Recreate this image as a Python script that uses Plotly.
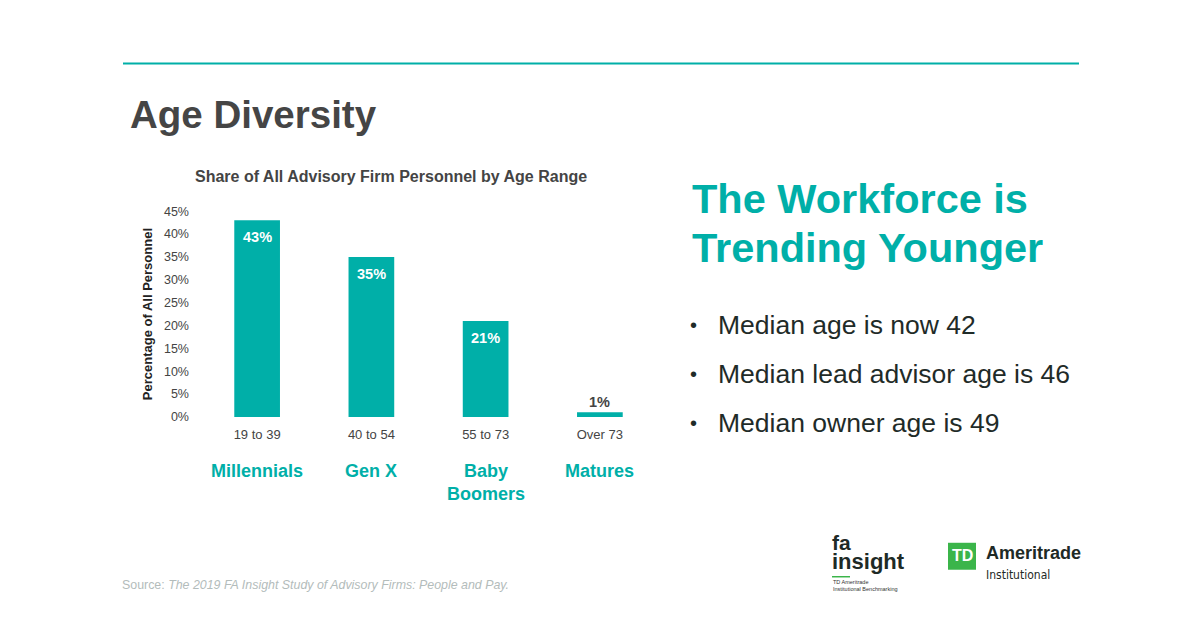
import plotly.graph_objects as go

# ---- data ----
age_ranges = ["19 to 39", "40 to 54", "55 to 73", "Over 73"]
generations = ["Millennials", "Gen X", "Baby<br>Boomers", "Matures"]
share_pct = [43, 35, 21, 1]
y_ticks = [0, 5, 10, 15, 20, 25, 30, 35, 40, 45]
y_tick_labels = [f"{v}%" for v in y_ticks]
bullets = ["Median age is now 42", "Median lead advisor age is 46", "Median owner age is 49"]

TEAL = "#00AFA8"
DARK = "#444444"
FONT = "Liberation Sans, Arial, sans-serif"
W, H = 1200, 627

def px(x):
    return x / W

def py(y):
    # vertical calibration of the screenshot
    return 1 - ((y - 6.5) / 0.979) / H

fig = go.Figure()
fig.add_trace(go.Bar(
    x=age_ranges, y=share_pct, marker=dict(color=TEAL, line=dict(width=0)),
    width=0.4, hoverinfo="skip", showlegend=False,
))

annotations = []
# value labels
for cat, v in zip(age_ranges, share_pct):
    inside = v > 5
    annotations.append(dict(
        x=cat, y=v, xref="x", yref="y", text=f"<b>{v}%</b>", showarrow=False,
        yshift=-17 if inside else 10,
        font=dict(family=FONT, size=14.5, color="white" if inside else DARK),
    ))
# generation labels
for cat, g in zip(age_ranges, generations):
    annotations.append(dict(
        x=cat, y=py(459), xref="x", yref="paper", text=f"<b>{g}</b>", showarrow=False,
        yanchor="top", xanchor="center", align="center",
        font=dict(family=FONT, size=18, color=TEAL),
    ))
# chart title
annotations.append(dict(
    x=px(391), y=py(176), xref="paper", yref="paper", showarrow=False,
    text="<b>Share of All Advisory Firm Personnel by Age Range</b>",
    font=dict(family=FONT, size=16, color=DARK), xanchor="center", yanchor="middle",
))
# page title
annotations.append(dict(
    x=px(128), y=py(114), xref="paper", yref="paper", showarrow=False,
    text="<b>Age Diversity</b>", xanchor="left", yanchor="middle",
    font=dict(family=FONT, size=38.5, color="#454545"),
))
# headline
annotations.append(dict(
    x=px(690), y=py(198), xref="paper", yref="paper", showarrow=False,
    text="<b>The Workforce is</b>", xanchor="left", yanchor="middle",
    font=dict(family=FONT, size=41.5, color=TEAL),
))
annotations.append(dict(
    x=px(690), y=py(247), xref="paper", yref="paper", showarrow=False,
    text="<b>Trending Younger</b>", xanchor="left", yanchor="middle",
    font=dict(family=FONT, size=41.5, color=TEAL),
))
# bullets
for i, b in enumerate(bullets):
    yy = 325 + 49 * i
    annotations.append(dict(
        x=px(688), y=py(yy), xref="paper", yref="paper", showarrow=False,
        text="•", xanchor="left", yanchor="middle",
        font=dict(family=FONT, size=20, color="#1f2b28"),
    ))
    annotations.append(dict(
        x=px(716), y=py(yy), xref="paper", yref="paper", showarrow=False,
        text=b, xanchor="left", yanchor="middle",
        font=dict(family=FONT, size=26.5, color="#1f2b28"),
    ))
# source
annotations.append(dict(
    x=px(120), y=py(585), xref="paper", yref="paper", showarrow=False,
    text="Source: <i>The 2019 FA Insight Study of Advisory Firms: People and Pay.</i>",
    xanchor="left", yanchor="middle",
    font=dict(family=FONT, size=12.4, color="#b3bcbb"),
))
# fa insight logo
annotations.append(dict(
    x=px(830), y=py(543), xref="paper", yref="paper", showarrow=False,
    text="<b>fa</b>", xanchor="left", yanchor="middle",
    font=dict(family=FONT, size=21, color="#1e2a26"),
))
annotations.append(dict(
    x=px(830), y=py(562), xref="paper", yref="paper", showarrow=False,
    text="<b>insight</b>", xanchor="left", yanchor="middle",
    font=dict(family=FONT, size=22, color="#1e2a26"),
))
annotations.append(dict(
    x=px(831), y=py(586), xref="paper", yref="paper", showarrow=False,
    text="TD Ameritrade<br>Institutional Benchmarking", xanchor="left", yanchor="middle",
    align="left", font=dict(family=FONT, size=5.5, color="#333333"),
))
# TD logo
annotations.append(dict(
    x=px(962), y=py(556), xref="paper", yref="paper", showarrow=False,
    text="<b>TD</b>", xanchor="center", yanchor="middle",
    font=dict(family=FONT, size=16, color="white"),
))
annotations.append(dict(
    x=px(984), y=py(553), xref="paper", yref="paper", showarrow=False,
    text="<b>Ameritrade</b>", xanchor="left", yanchor="middle",
    font=dict(family=FONT, size=18, color="#1e2a26"),
))
annotations.append(dict(
    x=px(984), y=py(575), xref="paper", yref="paper", showarrow=False,
    text="Institutional", xanchor="left", yanchor="middle",
    font=dict(family="DejaVu Sans Condensed, " + FONT, size=12, color="#1e2a26"),
))

shapes = [
    dict(type="line", xref="paper", yref="paper", x0=px(123), x1=px(1079), y0=py(63), y1=py(63),
         line=dict(color=TEAL, width=2)),
    dict(type="rect", xref="paper", yref="paper", x0=px(948), x1=px(976), y0=py(570), y1=py(543),
         fillcolor="#3bb54a", line=dict(width=0)),
    dict(type="line", xref="paper", yref="paper", x0=px(832), x1=px(850), y0=py(577), y1=py(577),
         line=dict(color="#3bb54a", width=1.5)),
]

fig.update_layout(
    width=W, height=H,
    margin=dict(l=0, r=0, t=0, b=0),
    paper_bgcolor="white", plot_bgcolor="white",
    font=dict(family=FONT, color=DARK),
    xaxis=dict(
        domain=[px(200), px(657)], range=[-0.5, 3.5],
        tickvals=age_ranges, ticktext=age_ranges,
        tickfont=dict(family=FONT, size=13, color=DARK),
        showgrid=False, showline=False, zeroline=False, ticks="",
        ticklabelstandoff=8, fixedrange=True,
    ),
    yaxis=dict(
        domain=[py(417), py(211)], range=[0, 45],
        tickvals=y_ticks, ticktext=y_tick_labels,
        tickfont=dict(family=FONT, size=12.5, color=DARK),
        showgrid=False, showline=False, zeroline=False, ticks="",
        ticklabelstandoff=10, fixedrange=True,
        title=dict(text="<b>Percentage of All Personnel</b>", standoff=8,
                   font=dict(family=FONT, size=13, color="#222222")),
    ),
    annotations=annotations,
    shapes=shapes,
    bargap=0.6,
)

fig.write_html(
    "out.html",
    config={"displayModeBar": False},
    post_script="document.body.style.margin='0';document.body.style.overflow='hidden';",
)
